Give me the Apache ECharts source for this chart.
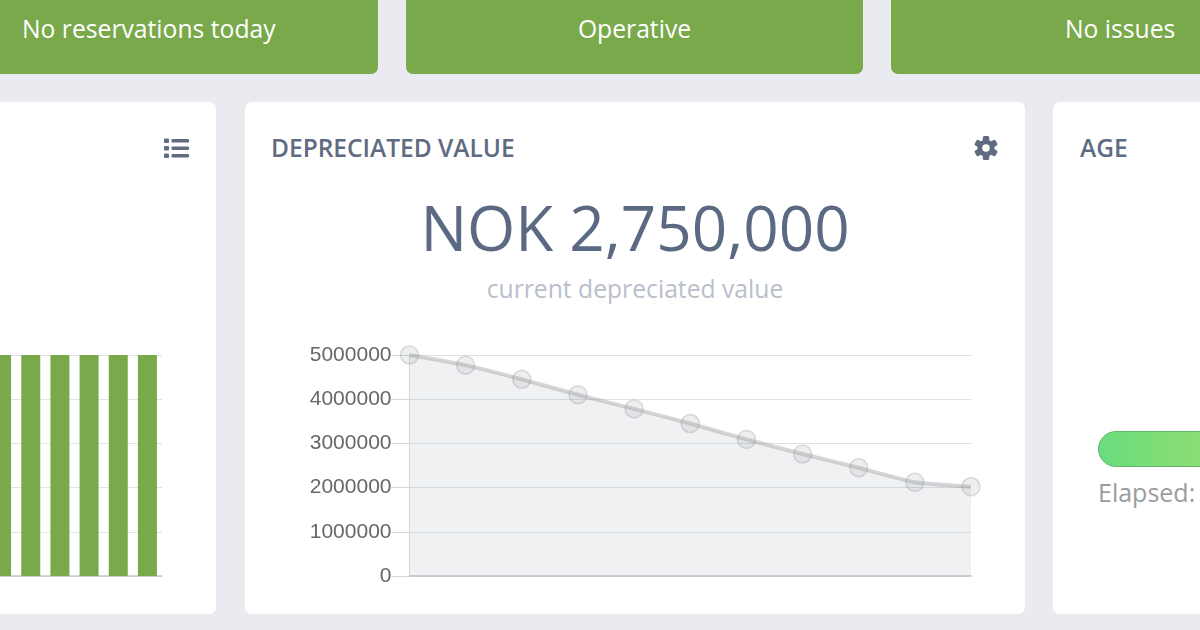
<!DOCTYPE html>
<html>
<head>
<meta charset="utf-8">
<title>Depreciated value</title>
<script src="https://cdn.jsdelivr.net/npm/echarts@6/dist/echarts.min.js"></script>
<style>
    html, body { margin: 0; padding: 0; width: 1200px; height: 630px; overflow: hidden; background: #e9ebf1; font-family: "Open Sans", sans-serif; }
    .banner, .card, .abs { position: absolute; }
    .banner { top: -20px; height: 94px; background: #79a94b; border-radius: 7px; color: #fff; font-size: 24.7px; line-height: 98px; box-sizing: border-box; }
    .card { top: 102px; height: 512px; background: #fff; border-radius: 7px; }
    .title { position: absolute; top: 128px; color: #5f6b80; font-size: 24.5px; line-height: 40px; font-weight: 600; white-space: nowrap; }
    .abs { white-space: nowrap; }
    #main_bar { position: absolute; left: -40px; top: 330px; width: 256px; height: 270px; }
    #main_line { position: absolute; left: 245px; top: 330px; width: 780px; height: 270px; }
    #age_bar { position: absolute; left: 1098px; top: 431px; width: 200px; height: 36px; box-sizing: border-box; border-radius: 18px; border: 1px solid #62b56c; background: linear-gradient(90deg, #69dc7f, #aee066); }
</style>
</head>
<body>
<div class="banner" style="left:-10px;width:388px;padding-left:32px;">No reservations today</div>
<div class="banner" style="left:406px;width:457px;text-align:center;">Operative</div>
<div class="banner" style="left:891px;width:320px;padding-left:174px;">No issues</div>

<div class="card" style="left:-10px;width:226px;"></div>
<div class="card" style="left:245px;width:780px;"></div>
<div class="card" style="left:1053px;width:160px;"></div>

<svg class="abs" style="left:164px;top:138px;" width="25" height="21" viewBox="0 0 25 21">
    <g fill="#5f6b80">
        <rect x="0" y="0.5" width="5" height="4.5" rx="1"/><rect x="7.5" y="1" width="17.5" height="3.5" rx="1"/>
        <rect x="0" y="8" width="5" height="4.5" rx="1"/><rect x="7.5" y="8.5" width="17.5" height="3.5" rx="1"/>
        <rect x="0" y="15.5" width="5" height="4.5" rx="1"/><rect x="7.5" y="16" width="17.5" height="3.5" rx="1"/>
    </g>
</svg>
<div class="title" style="left:271px;">DEPRECIATED VALUE</div>
<svg class="abs" style="left:973px;top:135px;" width="26" height="26" viewBox="-13 -13 26 26">
    <g fill="#5f6b80">
        <rect x="-3.2" y="-12" width="6.4" height="24" rx="1.5"/>
        <rect x="-3.2" y="-12" width="6.4" height="24" rx="1.5" transform="rotate(60)"/>
        <rect x="-3.2" y="-12" width="6.4" height="24" rx="1.5" transform="rotate(120)"/>
        <circle r="8.6"/>
    </g>
    <circle r="3.8" fill="#fff"/>
</svg>
<div class="abs" style="left:245px;width:780px;top:182px;text-align:center;color:#5b6a82;font-size:62px;line-height:90px;">NOK 2,750,000</div>
<div class="abs" style="left:245px;width:780px;top:270px;text-align:center;color:#b9c0cb;font-size:24.7px;line-height:38px;">current depreciated value</div>
<div class="title" style="left:1080px;">AGE</div>
<div id="age_bar"></div>
<div class="abs" style="left:1098px;top:473px;color:#9a9c9e;font-size:25px;line-height:38px;">Elapsed:</div>

<div id="main_bar"></div>
<div id="main_line"></div>

<script>
// 左边柱状图
var barCategories = ['1', '2', '3', '4', '5', '6'];
var barValues = [5000000, 5000000, 5000000, 5000000, 5000000, 5000000];

// 折旧曲线
var lineCategories = ['0', '1', '2', '3', '4', '5', '6', '7', '8', '9', '10'];
var lineValues = [5000000, 4770000, 4450000, 4100000, 3780000, 3450000, 3090000, 2760000, 2450000, 2120000, 2020000];

var axisMax = 5000000;
var axisStep = 1000000;

function chartBarShow() {
    var myChartBar = echarts.init(document.getElementById('main_bar'));
    myChartBar.setOption({
        animation: false,
        grid: { left: 27, top: 25, width: 175, height: 221 },
        xAxis: {
            type: 'category',
            data: barCategories,
            axisTick: { show: false },
            axisLabel: { show: false },
            axisLine: { lineStyle: { color: '#c6c8cc', width: 1.5 } }
        },
        yAxis: {
            type: 'value',
            min: 0,
            max: axisMax,
            interval: axisStep,
            axisLabel: { show: false },
            axisLine: { show: false },
            splitLine: { lineStyle: { color: '#e2e3e7', width: 1 } }
        },
        series: [{
            type: 'bar',
            data: barValues,
            barWidth: 19,
            itemStyle: { color: '#79a94b' }
        }]
    });
}

function chartLineShow() {
    var myChartLine = echarts.init(document.getElementById('main_line'));
    myChartLine.setOption({
        animation: false,
        grid: { left: 164.5, right: 54, top: 25, height: 221 },
        xAxis: {
            type: 'category',
            data: lineCategories,
            boundaryGap: false,
            axisTick: { show: false },
            axisLabel: { show: false },
            axisLine: { lineStyle: { color: '#c2c4c7', width: 1.5 } }
        },
        yAxis: {
            type: 'value',
            min: 0,
            max: axisMax,
            interval: axisStep,
            axisLine: { show: true, lineStyle: { color: '#d9dde2', width: 1 } },
            axisTick: { show: true, length: 18, lineStyle: { color: '#d4d6da', width: 1 } },
            axisLabel: {
                margin: 18,
                color: '#666769',
                fontSize: 21,
                fontFamily: '"Liberation Sans", Arial, sans-serif',
                formatter: function (value) { return String(value); }
            },
            splitLine: { lineStyle: { color: '#dfe1e5', width: 1 } }
        },
        series: [{
            type: 'line',
            data: lineValues,
            smooth: 0.15,
            clip: false,
            symbol: 'circle',
            symbolSize: 18,
            lineStyle: { color: 'rgba(150,152,155,0.4)', width: 4 },
            itemStyle: { color: 'rgba(150,152,155,0.17)', borderColor: 'rgba(140,142,148,0.3)', borderWidth: 1.5 },
            areaStyle: { color: 'rgba(125,135,150,0.17)', origin: 'start' }
        }]
    });
}

chartBarShow();
chartLineShow();
</script>
</body>
</html>
